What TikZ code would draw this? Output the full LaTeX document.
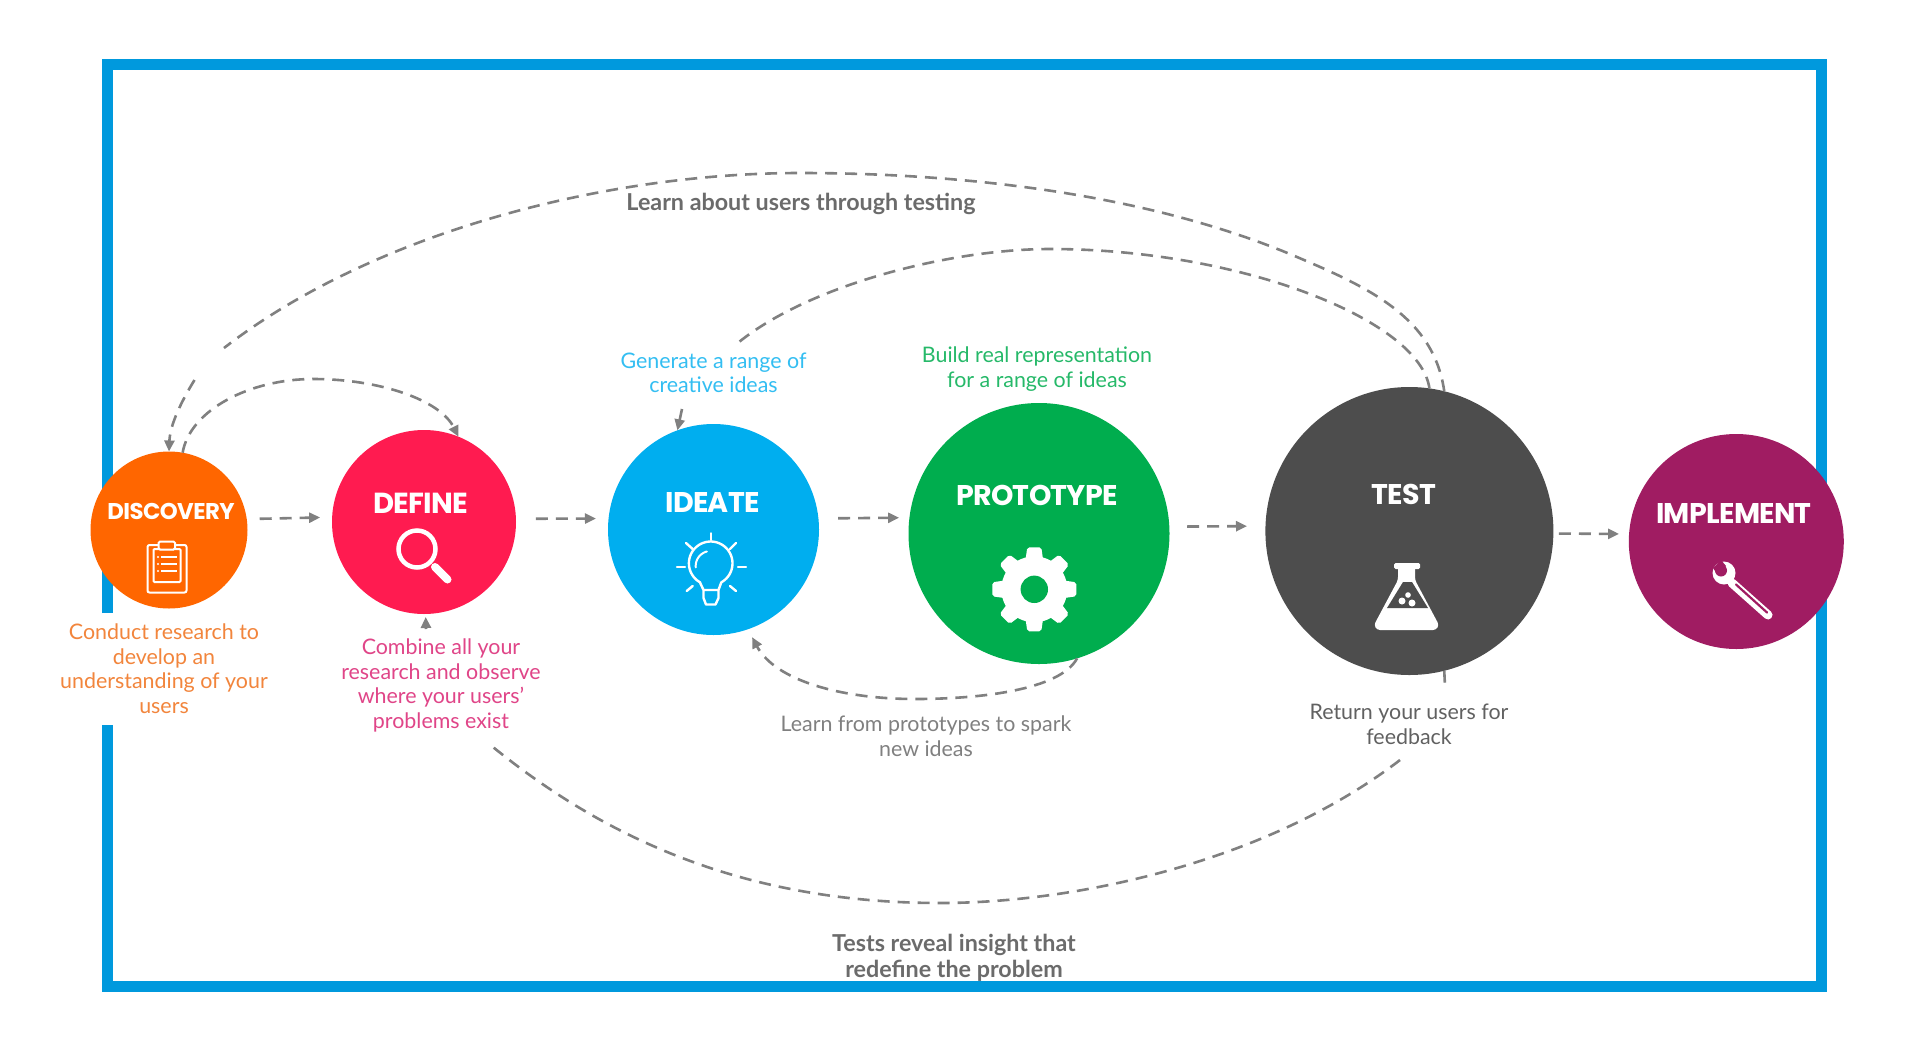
\documentclass[tikz,border=0pt]{standalone}
\usepackage{fontspec}
\usetikzlibrary{arrows.meta}
\setmainfont{Lato}
\newfontfamily\titlef[LetterSpace=-2.5]{Poppins}
\definecolor{frameblue}{HTML}{0099DD}
\definecolor{flowgrey}{HTML}{808080}
\definecolor{cdisc}{HTML}{FF6600}
\definecolor{cdef}{HTML}{FF1B50}
\definecolor{cidea}{HTML}{00AEEF}
\definecolor{cproto}{HTML}{00AD4E}
\definecolor{ctest}{HTML}{4D4D4D}
\definecolor{cimpl}{HTML}{A01C62}
\tikzset{
  stage/.style={circle,inner sep=0pt,outer sep=0pt,minimum size=#1},
  flowplain/.style={draw=flowgrey,line width=2.6pt,dash pattern=on 12pt off 8pt},
  flow/.style={flowplain,-{Triangle[length=11pt,width=10pt]}},
  title/.style={text=white,font=\titlef\bfseries\fontsize{#1}{#1}\selectfont,inner sep=0pt},
  note/.style={align=center,inner sep=0pt,font=\fontsize{21.4}{24.5}\selectfont},
  boldnote/.style={align=center,inner sep=0pt,text=black!58,font=\bfseries\fontsize{23.3}{26}\selectfont},
  icon/.style={draw=white,line width=2.4pt,line cap=round,line join=round},
}
\begin{document}
\begin{tikzpicture}[x=1pt,y=-1pt]
\useasboundingbox (0,0) rectangle (1920,1053);
\fill[white] (0,0) rectangle (1920,1053);
% frame, interrupted beside the Discovery text
\draw[frameblue,line width=11pt] (107.5,613) -- (107.5,64) -- (1821,64) -- (1821,986.5) -- (107.5,986.5) -- (107.5,725);

% stages
\node[stage=157pt,fill=cdisc] (disc) at (169,530) {};
\node[stage=184pt,fill=cdef] (def) at (424,522) {};
\node[stage=211pt,fill=cidea] (ideate) at (713.5,529.5) {};
\node[stage=261pt,fill=cproto] (proto) at (1039,533.5) {};
\node[stage=288pt,fill=ctest] (test) at (1409.4,531) {};
\node[stage=215pt,fill=cimpl] (impl) at (1736.3,541.5) {};

% titles
\node[title=22.8] (tdisc) at (171,511) {DISCOVERY};
\node[title=29] (tdef) at (421,503.5) {DEFINE};
\node[title=28.5] (tideate) at (712.5,502.5) {IDEATE};
\node[title=28.5] (tproto) at (1037,495) {PROTOTYPE};
\node[title=28.5] (ttest) at (1404,494) {TEST};
\node[title=28.5] (timpl) at (1734,513) {IMPLEMENT};

% straight connectors
\draw[flow,shorten <=13pt,shorten >=12pt] (disc.8.8) -- (def.177.5);
\draw[flow,shorten <=20pt,shorten >=12.6pt] (def.2.5) -- (ideate.174);
\draw[flow,shorten <=19.6pt,shorten >=10.4pt] (ideate.6) -- (proto.173.2);
\draw[flow,shorten <=17.7pt,shorten >=18.5pt] (proto.3.3) -- (test.178);
\draw[flow,shorten <=5.6pt,shorten >=10pt] (test.-1.6) -- (impl.176.8);

% free ends where the curves are interrupted by text
\coordinate (outerA) at (224,348);
\coordinate (outerB) at (194.5,380);
\coordinate (innerA) at (739,342);
\coordinate (innerB) at (682,409);
\coordinate (lowA) at (1445,686);
\coordinate (lowB) at (1400,760);
\coordinate (lowC) at (488,743);
\coordinate (lowD) at (426,629);

% Test -> Discovery
\draw[flowplain] (test.76) .. controls (1434,318) and (1370,288) .. (1297,257)
  .. controls (1147,193) and (960,173) .. (800,173)
  .. controls (600,173) and (370,235) .. (outerA);
\draw[flow] (outerB) .. controls (181,402) and (170,425) .. (disc.90);
% Test -> Ideate
\draw[flowplain] (test.82) .. controls (1420,320) and (1240,249) .. (1050,249)
  .. controls (950,249) and (810,285) .. (innerA);
\draw[flow] (innerB) -- (ideate.110.5);
% Discovery -> Define
\draw[flow] (disc.80.8) .. controls (190,410) and (250,379) .. (313,379)
  .. controls (380,379) and (440,400) .. (def.68.7);
% Prototype -> Ideate
\draw[flow,shorten >=9pt] (proto.-73.7) .. controls (1060,690) and (980,699) .. (915,699)
  .. controls (840,699) and (775,680) .. (ideate.-71.2);
% Test -> Define
\draw[flowplain] (test.-76) -- (lowA);
\draw[flowplain] (lowB) .. controls (1270,860) and (1080,903) .. (940,903)
  .. controls (740,903) and (600,835) .. (lowC);
\draw[flow,shorten >=3pt] (lowD) -- (def.-89);

% notes
\node[note,text=cdisc!75!white!95!black] (ndisc) at (164,668.5) {Conduct research to\\develop an\\understanding of your\\users};
\node[note,text=cdef!85!blue!80!white] (ndef) at (441,685.5) {Combine all your\\research and observe\\where your users'\\problems exist};
\node[note,text=cidea!80!white] (nidea) at (713.5,373) {Generate a range of\\creative ideas};
\node[note,text=cproto!85!white] (nproto) at (1037,369) {Build real representation\\for a range of ideas};
\node[note,text=black!50] (nlearn) at (926,736) {Learn from prototypes to spark\\new ideas};
\node[note,text=black!62] (nreturn) at (1409,724.5) {Return your users for\\feedback};
\node[boldnote] (nabout) at (801,204) {Learn about users through testing};
\node[boldnote] (ntests) at (954,957.5) {Tests reveal insight that\\redefine the problem};

% clipboard icon
\draw[draw=white,line width=2pt,rounded corners=2pt] (147.5,545) rectangle (186.5,592.5);
\draw[draw=white,line width=2pt,rounded corners=1pt] (153.5,549) rectangle (180.5,582);
\fill[cdisc,draw=white,line width=2pt,rounded corners=1.5pt] (158.5,541.5) rectangle (175,549.5);
\foreach \ly in {557,564,571}{
  \draw[white,line width=1.8pt] (161,\ly) -- (177,\ly);
  \fill[white] (158,\ly) circle (1.1pt);
}

% magnifier icon
\draw[white,line width=4.5pt] (417,549) circle (18.5pt);
\draw[white,line width=8pt,line cap=round] (435,567) -- (447.5,579.5);

% bulb icon
\draw[icon] (710.7,533.3) -- (710.7,540);
\draw[icon] (677,567) -- (685,567);
\draw[icon] (738,567) -- (746,567);
\draw[icon] (686,543) -- (692.7,549);
\draw[icon] (736,543) -- (730,549);
\draw[icon] (686.7,591) -- (692.7,586);
\draw[icon] (736,591) -- (730,586);
\draw[icon] (703.5,590) -- (700,582.5) -- plot[domain=119:421,samples=50] ({710.7+21.8*cos(\x)},{563.3+21.8*sin(\x)}) -- (718.5,590) -- (703.5,590) -- (703.5,598) -- (706,604.5) -- (715.5,604.5) -- (718.5,598) -- (718.5,590);
\draw[icon,line width=2pt] plot[domain=175:255,samples=15] ({710.7+15*cos(\x)},{566*1+15*sin(\x)});

% gear icon
\foreach \a in {0,45,...,315}{
  \fill[white,rounded corners=2pt,shift={(1034.3,589.3)},rotate=\a] (-9,-28) -- (-7,-42) -- (7,-42) -- (9,-28) -- cycle;
}
\fill[white] (1034.3,589.3) circle (33pt);
\fill[cproto] (1034.3,589.3) circle (13.7pt);

% flask icon
\fill[white,rounded corners=1.5pt] (1394,563) rectangle (1420,569);
\fill[white,rounded corners=3pt] (1398,566) -- (1415,566) -- (1415,580) -- (1439,625) -- (1436,630) -- (1377,630) -- (1374,625) -- (1398,580) -- cycle;
\fill[ctest] (1403,582) -- (1412,582) -- (1428,608) -- (1387,608) -- cycle;
\fill[white] (1402,601) circle (3.5pt);
\fill[white] (1408,595) circle (2.8pt);
\fill[white] (1412,603) circle (3.5pt);

% wrench icon
\fill[white] (1724,573) circle (11.5pt);
\fill[cimpl] (1721,570.5) circle (6pt);
\fill[cimpl] (1713,568) -- (1721,560) -- (1726,566) -- (1717.5,574.5) -- cycle;
\draw[white,line width=9pt,line cap=round] (1732,583) -- (1768,615);
\draw[cimpl,line width=2.2pt,line cap=round] (1736,584.5) -- (1767,612.5);
\end{tikzpicture}
\end{document}
